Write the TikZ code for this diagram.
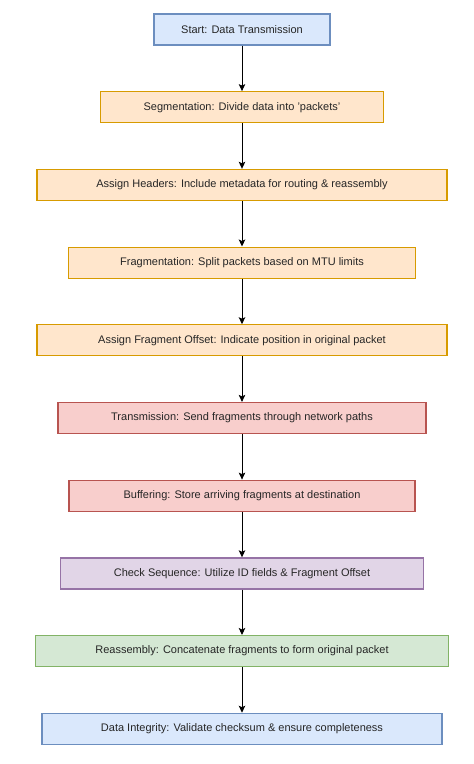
\documentclass[tikz,border=0pt]{standalone}
\usepackage{fontspec}
\setmainfont{Liberation Sans}
\usetikzlibrary{positioning,arrows.meta}
\definecolor{BlueLine}{HTML}{6C8EBF}
\definecolor{BlueBand}{HTML}{DAE8FC}
\definecolor{OrangeLine}{HTML}{D79B00}
\definecolor{OrangeBand}{HTML}{FFE6CC}
\definecolor{RedLine}{HTML}{B85450}
\definecolor{RedBand}{HTML}{F8CECC}
\definecolor{PurpleLine}{HTML}{9673A6}
\definecolor{PurpleBand}{HTML}{E1D5E7}
\definecolor{GreenLine}{HTML}{82B366}
\definecolor{GreenBand}{HTML}{D5E8D4}
\tikzset{
  flow/.style={-{Stealth[length=7pt,width=6.5pt,inset=1.5pt]},line width=0.9pt,draw=black},
  stepbox/.style={minimum height=31pt,align=center,line width=1.2pt,
    font=\fontsize{11}{13}\selectfont,text=black!85},
  bluebox/.style={stepbox,draw=BlueLine,fill=BlueBand},
  orangebox/.style={stepbox,draw=OrangeLine,fill=OrangeBand},
  redbox/.style={stepbox,draw=RedLine,fill=RedBand},
  purplebox/.style={stepbox,draw=PurpleLine,fill=PurpleBand},
  greenbox/.style={stepbox,draw=GreenLine,fill=GreenBand}
}

\begin{document}
\begin{tikzpicture}[node distance=45.5pt]
  \useasboundingbox[fill=white] (0,0) rectangle (474pt,-764pt);
  \node[bluebox,minimum width=176pt] (start) at (242pt,-29.5pt) {Start: Data Transmission};
  \node[orangebox,below=of start,minimum width=283pt] (segment) {Segmentation: Divide data into 'packets'};
  \node[orangebox,below=of segment,minimum width=410pt] (headers) {Assign Headers: Include metadata for routing \& reassembly};
  \node[orangebox,below=of headers,minimum width=347pt] (fragment) {Fragmentation: Split packets based on MTU limits};
  \node[orangebox,below=of fragment,minimum width=410pt] (offset) {Assign Fragment Offset: Indicate position in original packet};
  \node[redbox,below=of offset,minimum width=368pt] (transmit) {Transmission: Send fragments through network paths};
  \node[redbox,below=of transmit,minimum width=346pt] (buffer) {Buffering: Store arriving fragments at destination};
  \node[purplebox,below=of buffer,minimum width=363pt] (sequence) {Check Sequence: Utilize ID fields \& Fragment Offset};
  \node[greenbox,below=of sequence,minimum width=413pt] (reassemble) {Reassembly: Concatenate fragments to form original packet};
  \node[bluebox,below=of reassemble,minimum width=400pt] (integrity) {Data Integrity: Validate checksum \& ensure completeness};
  \draw[flow] (start) -- (segment);
  \draw[flow] (segment) -- (headers);
  \draw[flow] (headers) -- (fragment);
  \draw[flow] (fragment) -- (offset);
  \draw[flow] (offset) -- (transmit);
  \draw[flow] (transmit) -- (buffer);
  \draw[flow] (buffer) -- (sequence);
  \draw[flow] (sequence) -- (reassemble);
  \draw[flow] (reassemble) -- (integrity);
\end{tikzpicture}
\end{document}
